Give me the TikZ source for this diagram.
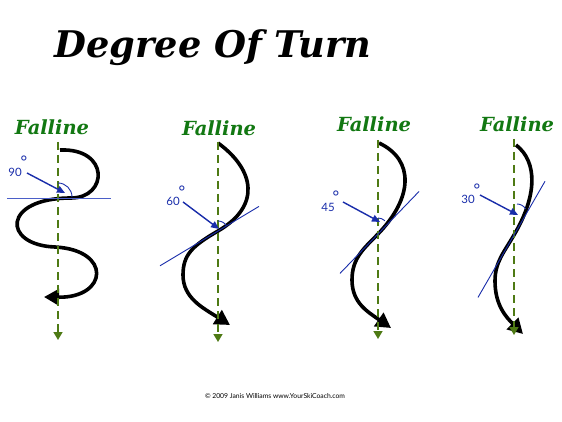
\documentclass[tikz,border=0pt]{standalone}
\usepackage{fontspec}
\usepackage{graphicx}
\usetikzlibrary{arrows.meta}
\newfontfamily\serifbi{DejaVu Serif}
\newfontfamily\labelsans{Lato}
\definecolor{fallgreen}{RGB}{18,120,18}
\definecolor{dashgreen}{RGB}{78,122,20}
\definecolor{angblue}{RGB}{25,45,170}
\definecolor{lineblue}{RGB}{75,95,200}
\tikzset{
 turnpath/.style={line width=3.6pt, black, -{Triangle[length=15pt,width=16pt]}},
 fallline/.style={dashgreen, line width=1.6pt, dash pattern=on 8pt off 5pt, -{Triangle[length=8pt,width=9pt]}},
 refline/.style={angblue, line width=0.9pt},
 anglearrow/.style={angblue, line width=1.4pt, -{Triangle[length=8pt,width=7pt]}},
 anglearc/.style={angblue, line width=0.9pt},
 falllabel/.style={text=fallgreen, inner sep=0pt, anchor=base, font=\serifbi\bfseries\itshape\fontsize{20}{20}\selectfont},
 numlabel/.style={text=angblue, inner sep=0pt, font=\labelsans\fontsize{11.5}{11.5}\selectfont},
 degsign/.style={text=angblue, inner sep=0pt, anchor=base, font=\labelsans\fontsize{16}{16}\selectfont},
}
\begin{document}
\begin{tikzpicture}[x=1pt,y=-1pt]
\useasboundingbox (0,0) rectangle (562,422);
\fill[white] (0,0) rectangle (562,422);

% title
\node[inner sep=0pt, anchor=base] (title) at (213,58)
  {\resizebox{317pt}{!}{\serifbi\bfseries\itshape\fontsize{36}{36}\selectfont Degree Of Turn}};

% ---------- 90 ----------
\node[falllabel] (fl1) at (52,135) {\resizebox{74pt}{!}{Falline}};
\coordinate (s1) at (60,150);
\coordinate (i1) at (71,198);
\coordinate (m1) at (55,247);
\coordinate (e1) at (44,297);
\coordinate (d1a) at (58,142);
\coordinate (d1b) at (58,340);
\coordinate (l1a) at (7,199);
\coordinate (l1b) at (111,199);
\coordinate (c1) at (58,197);
\coordinate (a1s) at (27,173);
\coordinate (a1e) at (65,193);
\draw[turnpath] (s1) .. controls (110,148) and (108,198) .. (i1)
  .. controls (2,198) and (2,245) .. (m1)
  .. controls (112,250) and (108,298) .. (e1);
\draw[fallline] (d1a) -- (d1b);
\draw[lineblue, line width=1pt] (l1a) -- (l1b);
\draw[anglearc] (c1) ++(-90:14) arc[start angle=-90, end angle=0, radius=14];
\draw[anglearrow] (a1s) -- (a1e);
\node[numlabel] (n1) at (15,172) {90};
\node[degsign] (g1) at (24,168) {°};

% ---------- 60 ----------
\node[falllabel] (fl2) at (219,136) {\resizebox{74pt}{!}{Falline}};
\coordinate (s2) at (218,143);
\coordinate (C2) at (218,231);
\coordinate (b2) at (183,275);
\coordinate (e2) at (230,325);
\coordinate (d2a) at (218,142);
\coordinate (d2b) at (218,342);
\coordinate (l2a) at (160,265.8);
\coordinate (l2b) at (259,206.4);
\coordinate (a2s) at (183,202);
\coordinate (a2e) at (219,229);
\draw[turnpath] (s2) .. controls (255,170) and (261,206) .. (C2)
  .. controls (192,246) and (183,255) .. (b2)
  .. controls (183,298) and (203,308) .. (e2);
\draw[fallline] (d2a) -- (d2b);
\draw[refline] (l2a) -- (l2b);
\draw[anglearc] (C2) ++(-90:10) arc[start angle=-90, end angle=-31, radius=10];
\draw[anglearrow] (a2s) -- (a2e);
\node[numlabel] (n2) at (173,201) {60};
\node[degsign] (g2) at (182,197) {°};

% ---------- 45 ----------
\node[falllabel] (fl3) at (374,132) {\resizebox{74pt}{!}{Falline}};
\coordinate (s3) at (379,143);
\coordinate (C3) at (378,234);
\coordinate (b3) at (352,280);
\coordinate (e3) at (391,328);
\coordinate (d3a) at (378,140);
\coordinate (d3b) at (378,339);
\coordinate (l3a) at (340,273.4);
\coordinate (l3b) at (419,191.5);
\coordinate (c3) at (378,228);
\coordinate (a3s) at (343,202);
\coordinate (a3e) at (380,222);
\draw[turnpath] (s3) .. controls (415,160) and (412.75,198) .. (C3)
  .. controls (364,248.4) and (352,258) .. (b3)
  .. controls (352,303) and (368,312) .. (e3);
\draw[fallline] (d3a) -- (d3b);
\draw[refline] (l3a) -- (l3b);
\draw[anglearc] (c3) ++(-90:10) arc[start angle=-90, end angle=-46, radius=10];
\draw[anglearrow] (a3s) -- (a3e);
\node[numlabel] (n3) at (328,207) {45};
\node[degsign] (g3) at (336,203) {°};

% ---------- 30 ----------
\node[falllabel] (fl4) at (517,132) {\resizebox{74pt}{!}{Falline}};
\coordinate (s4) at (516,145);
\coordinate (C4) at (514,235);
\coordinate (b4) at (495,281);
\coordinate (e4) at (523,334);
\coordinate (d4a) at (514,139);
\coordinate (d4b) at (514,335);
\coordinate (l4a) at (478,297.4);
\coordinate (l4b) at (545,181.3);
\coordinate (c4) at (517,214);
\coordinate (a4s) at (480,195);
\coordinate (a4e) at (518,215);
\draw[turnpath] (s4) .. controls (538,162) and (537,196) .. (C4)
  .. controls (504,252.3) and (495,262) .. (b4)
  .. controls (495,305) and (506,317) .. (e4);
\draw[fallline] (d4a) -- (d4b);
\draw[refline] (l4a) -- (l4b);
\draw[anglearc] (c4) ++(-90:10) arc[start angle=-90, end angle=-30, radius=10];
\draw[anglearrow] (a4s) -- (a4e);
\node[numlabel] (n4) at (468,199) {30};
\node[degsign] (g4) at (477,196) {°};

% copyright
\node[inner sep=0pt] (copy) at (275,396)
  {\resizebox{140pt}{!}{\labelsans\fontsize{6}{6}\selectfont © 2009 Janis Williams www.YourSkiCoach.com}};
\end{tikzpicture}
\end{document}
